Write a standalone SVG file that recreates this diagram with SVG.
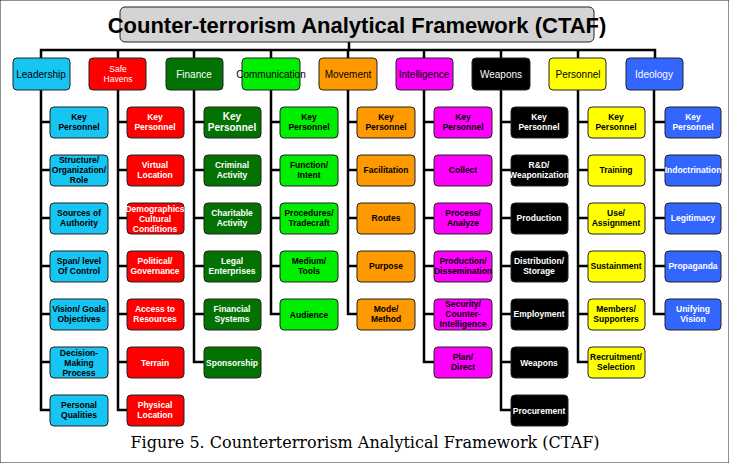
<svg xmlns="http://www.w3.org/2000/svg" width="729" height="463" viewBox="0 0 729 463">
<style>
text{font-family:"Liberation Sans",Arial,sans-serif;font-weight:bold;text-anchor:middle;font-size:8.5px}
.cat text{font-size:10px;font-weight:normal}
rect{stroke:#222;stroke-width:1}
.w{fill:#fff}.k{fill:#000}
.c1{fill:#17c5f3}.c2{fill:#ff0000}.c3{fill:#027202}.c4{fill:#00ee00}.c5{fill:#ff9900}.c6{fill:#ff00ff}.c7{fill:#000}.c8{fill:#ffff00}.c9{fill:#3366ff}
#connectors path{fill:none;stroke:#000;stroke-width:2.5}
</style>
<rect x="0" y="0" width="729" height="463" fill="#fff" stroke="none"/>
<g id="connectors">
<path d="M349 42V50M41 58V50H655V58M118 50V58M194 50V58M271 50V58M348 50V58M424 50V58M501 50V58M578 50V58"/>
<path d="M41 90V410H50M41 122H50M41 170H50M41 218H50M41 266H50M41 314H50M41 362H50"/>
<path d="M118 90V410H127M118 122H127M118 170H127M118 218H127M118 266H127M118 314H127M118 362H127"/>
<path d="M194 90V362H204M194 122H204M194 170H204M194 218H204M194 266H204M194 314H204"/>
<path d="M271 90V314H280M271 122H280M271 170H280M271 218H280M271 266H280"/>
<path d="M348 90V314H357M348 122H357M348 170H357M348 218H357M348 266H357"/>
<path d="M424 90V362H434M424 122H434M424 170H434M424 218H434M424 266H434M424 314H434"/>
<path d="M501 90V410H511M501 122H511M501 170H511M501 218H511M501 266H511M501 314H511M501 362H511"/>
<path d="M578 90V362H588M578 122H588M578 170H588M578 218H588M578 266H588M578 314H588"/>
<path d="M654 90V314H665M654 122H665M654 170H665M654 218H665M654 266H665"/>
</g>
<g id="title"><rect x="120" y="7" width="474" height="35" rx="5" fill="#d4d4d4" stroke="#666"/><text x="357" y="33" style="font-size:22px;font-weight:bold">Counter-terrorism Analytical Framework (CTAF)</text></g>
<g class="cat">
<g id="leadership"><rect class="c1" x="13" y="58" width="57" height="32" rx="4"/><text x="41" y="78">Leadership</text></g>
<g id="safehavens"><rect class="c2" x="89" y="58" width="57" height="32" rx="4"/><text class="w" x="118" y="72" style="font-size:8.5px">Safe</text><text class="w" x="118" y="82" style="font-size:8.5px">Havens</text></g>
<g id="finance"><rect class="c3" x="166" y="58" width="57" height="32" rx="4"/><text class="w" x="194" y="78">Finance</text></g>
<g id="communication"><rect class="c4" x="242" y="58" width="58" height="32" rx="4"/><text x="271" y="78">Communication</text></g>
<g id="movement"><rect class="c5" x="319" y="58" width="58" height="32" rx="4"/><text x="348" y="78">Movement</text></g>
<g id="intelligence"><rect class="c6" x="396" y="58" width="57" height="32" rx="4"/><text x="424" y="78">Intelligence</text></g>
<g id="weapons"><rect class="c7" x="472" y="58" width="58" height="32" rx="4"/><text class="w" x="501" y="78">Weapons</text></g>
<g id="personnel"><rect class="c8" x="549" y="58" width="57" height="32" rx="4"/><text x="578" y="78">Personnel</text></g>
<g id="ideology"><rect class="c9" x="626" y="58" width="57" height="32" rx="4"/><text class="w" x="654" y="78">Ideology</text></g>
</g>
<g id="leadership-items">
<g id="l1"><rect class="c1" x="50" y="107" width="58" height="31" rx="4"/><text x="79" y="120">Key</text><text x="79" y="130">Personnel</text></g>
<g id="l2"><rect class="c1" x="50" y="155" width="58" height="31" rx="4"/><text x="79" y="163">Structure/</text><text x="79" y="173">Organization/</text><text x="79" y="183">Role</text></g>
<g id="l3"><rect class="c1" x="50" y="203" width="58" height="31" rx="4"/><text x="79" y="216">Sources of</text><text x="79" y="226">Authority</text></g>
<g id="l4"><rect class="c1" x="50" y="251" width="58" height="31" rx="4"/><text x="79" y="264">Span/ level</text><text x="79" y="274">Of Control</text></g>
<g id="l5"><rect class="c1" x="50" y="299" width="58" height="31" rx="4"/><text x="79" y="312">Vision/ Goals</text><text x="79" y="322">Objectives</text></g>
<g id="l6"><rect class="c1" x="50" y="347" width="58" height="31" rx="4"/><text x="79" y="356">Decision-</text><text x="79" y="366">Making</text><text x="79" y="376">Process</text></g>
<g id="l7"><rect class="c1" x="50" y="395" width="58" height="31" rx="4"/><text x="79" y="408">Personal</text><text x="79" y="418">Qualities</text></g>
</g>
<g id="safehavens-items" class="w">
<g id="s1"><rect class="c2" x="127" y="107" width="57" height="31" rx="4"/><text class="w" x="155" y="120">Key</text><text class="w" x="155" y="130">Personnel</text></g>
<g id="s2"><rect class="c2" x="127" y="155" width="57" height="31" rx="4"/><text class="w" x="155" y="168">Virtual</text><text class="w" x="155" y="178">Location</text></g>
<g id="s3"><rect class="c2" x="127" y="203" width="57" height="31" rx="4"/><text class="w" x="155" y="212">Demographics</text><text class="w" x="155" y="222">Cultural</text><text class="w" x="155" y="232">Conditions</text></g>
<g id="s4"><rect class="c2" x="127" y="251" width="57" height="31" rx="4"/><text class="w" x="155" y="264">Political/</text><text class="w" x="155" y="274">Governance</text></g>
<g id="s5"><rect class="c2" x="127" y="299" width="57" height="31" rx="4"/><text class="w" x="155" y="312">Access to</text><text class="w" x="155" y="322">Resources</text></g>
<g id="s6"><rect class="c2" x="127" y="347" width="57" height="31" rx="4"/><text class="w" x="155" y="366">Terrain</text></g>
<g id="s7"><rect class="c2" x="127" y="395" width="57" height="31" rx="4"/><text class="w" x="155" y="408">Physical</text><text class="w" x="155" y="418">Location</text></g>
</g>
<g id="finance-items">
<g id="f1"><rect class="c3" x="204" y="107" width="57" height="31" rx="4"/><text class="w" x="232" y="120" style="font-size:10px">Key</text><text class="w" x="232" y="131" style="font-size:10px">Personnel</text></g>
<g id="f2"><rect class="c3" x="204" y="155" width="57" height="31" rx="4"/><text class="w" x="232" y="168">Criminal</text><text class="w" x="232" y="178">Activity</text></g>
<g id="f3"><rect class="c3" x="204" y="203" width="57" height="31" rx="4"/><text class="w" x="232" y="216">Charitable</text><text class="w" x="232" y="226">Activity</text></g>
<g id="f4"><rect class="c3" x="204" y="251" width="57" height="31" rx="4"/><text class="w" x="232" y="264">Legal</text><text class="w" x="232" y="274">Enterprises</text></g>
<g id="f5"><rect class="c3" x="204" y="299" width="57" height="31" rx="4"/><text class="w" x="232" y="312">Financial</text><text class="w" x="232" y="322">Systems</text></g>
<g id="f6"><rect class="c3" x="204" y="347" width="57" height="31" rx="4"/><text class="w" x="232" y="366">Sponsorship</text></g>
</g>
<g id="communication-items">
<g id="c1"><rect class="c4" x="280" y="107" width="58" height="31" rx="4"/><text x="309" y="120">Key</text><text x="309" y="130">Personnel</text></g>
<g id="c2"><rect class="c4" x="280" y="155" width="58" height="31" rx="4"/><text x="309" y="168">Function/</text><text x="309" y="178">Intent</text></g>
<g id="c3"><rect class="c4" x="280" y="203" width="58" height="31" rx="4"/><text x="309" y="216">Procedures/</text><text x="309" y="226">Tradecraft</text></g>
<g id="c4"><rect class="c4" x="280" y="251" width="58" height="31" rx="4"/><text x="309" y="264">Medium/</text><text x="309" y="274">Tools</text></g>
<g id="c5"><rect class="c4" x="280" y="299" width="58" height="31" rx="4"/><text x="309" y="318">Audience</text></g>
</g>
<g id="movement-items">
<g id="m1"><rect class="c5" x="357" y="107" width="58" height="31" rx="4"/><text x="386" y="120">Key</text><text x="386" y="130">Personnel</text></g>
<g id="m2"><rect class="c5" x="357" y="155" width="58" height="31" rx="4"/><text x="386" y="173">Facilitation</text></g>
<g id="m3"><rect class="c5" x="357" y="203" width="58" height="31" rx="4"/><text x="386" y="221">Routes</text></g>
<g id="m4"><rect class="c5" x="357" y="251" width="58" height="31" rx="4"/><text x="386" y="269">Purpose</text></g>
<g id="m5"><rect class="c5" x="357" y="299" width="58" height="31" rx="4"/><text x="386" y="312">Mode/</text><text x="386" y="322">Method</text></g>
</g>
<g id="intelligence-items">
<g id="i1"><rect class="c6" x="434" y="107" width="58" height="31" rx="4"/><text x="463" y="120">Key</text><text x="463" y="130">Personnel</text></g>
<g id="i2"><rect class="c6" x="434" y="155" width="58" height="31" rx="4"/><text x="463" y="173">Collect</text></g>
<g id="i3"><rect class="c6" x="434" y="203" width="58" height="31" rx="4"/><text x="463" y="216">Process/</text><text x="463" y="226">Analyze</text></g>
<g id="i4"><rect class="c6" x="434" y="251" width="58" height="31" rx="4"/><text x="463" y="264">Production/</text><text x="463" y="274">Dissemination</text></g>
<g id="i5"><rect class="c6" x="434" y="299" width="58" height="31" rx="4"/><text x="463" y="307">Security/</text><text x="463" y="317">Counter-</text><text x="463" y="327">Intelligence</text></g>
<g id="i6"><rect class="c6" x="434" y="347" width="58" height="31" rx="4"/><text x="463" y="360">Plan/</text><text x="463" y="370">Direct</text></g>
</g>
<g id="weapons-items">
<g id="w1"><rect class="c7" x="511" y="107" width="57" height="31" rx="4"/><text class="w" x="539" y="120">Key</text><text class="w" x="539" y="130">Personnel</text></g>
<g id="w2"><rect class="c7" x="511" y="155" width="57" height="31" rx="4"/><text class="w" x="539" y="168">R&amp;D/</text><text class="w" x="539" y="178">Weaponization</text></g>
<g id="w3"><rect class="c7" x="511" y="203" width="57" height="31" rx="4"/><text class="w" x="539" y="221">Production</text></g>
<g id="w4"><rect class="c7" x="511" y="251" width="57" height="31" rx="4"/><text class="w" x="539" y="264">Distribution/</text><text class="w" x="539" y="274">Storage</text></g>
<g id="w5"><rect class="c7" x="511" y="299" width="57" height="31" rx="4"/><text class="w" x="539" y="317">Employment</text></g>
<g id="w6"><rect class="c7" x="511" y="347" width="57" height="31" rx="4"/><text class="w" x="539" y="366">Weapons</text></g>
<g id="w7"><rect class="c7" x="511" y="395" width="57" height="31" rx="4"/><text class="w" x="539" y="414">Procurement</text></g>
</g>
<g id="personnel-items">
<g id="p1"><rect class="c8" x="588" y="107" width="57" height="31" rx="4"/><text x="616" y="120">Key</text><text x="616" y="130">Personnel</text></g>
<g id="p2"><rect class="c8" x="588" y="155" width="57" height="31" rx="4"/><text x="616" y="173">Training</text></g>
<g id="p3"><rect class="c8" x="588" y="203" width="57" height="31" rx="4"/><text x="616" y="216">Use/</text><text x="616" y="226">Assignment</text></g>
<g id="p4"><rect class="c8" x="588" y="251" width="57" height="31" rx="4"/><text x="616" y="269">Sustainment</text></g>
<g id="p5"><rect class="c8" x="588" y="299" width="57" height="31" rx="4"/><text x="616" y="312">Members/</text><text x="616" y="322">Supporters</text></g>
<g id="p6"><rect class="c8" x="588" y="347" width="57" height="31" rx="4"/><text x="616" y="360">Recruitment/</text><text x="616" y="370">Selection</text></g>
</g>
<g id="ideology-items">
<g id="d1"><rect class="c9" x="665" y="107" width="56" height="31" rx="4"/><text class="w" x="693" y="120">Key</text><text class="w" x="693" y="130">Personnel</text></g>
<g id="d2"><rect class="c9" x="665" y="155" width="56" height="31" rx="4"/><text class="w" x="693" y="173">Indoctrination</text></g>
<g id="d3"><rect class="c9" x="665" y="203" width="56" height="31" rx="4"/><text class="w" x="693" y="221">Legitimacy</text></g>
<g id="d4"><rect class="c9" x="665" y="251" width="56" height="31" rx="4"/><text class="w" x="693" y="269">Propaganda</text></g>
<g id="d5"><rect class="c9" x="665" y="299" width="56" height="31" rx="4"/><text class="w" x="693" y="312">Unifying</text><text class="w" x="693" y="322">Vision</text></g>
</g>
<text x="365" y="448" style="font-family:'DejaVu Serif','Liberation Serif',serif;font-weight:normal;font-size:16px">Figure 5. Counterterrorism Analytical Framework (CTAF)</text>
</svg>
